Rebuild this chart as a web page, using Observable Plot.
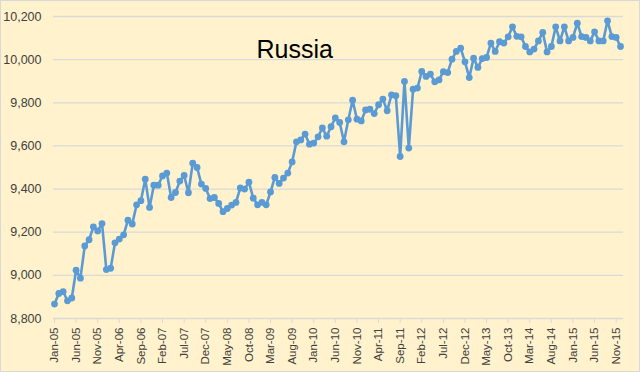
<!DOCTYPE html>
<html><head><meta charset="utf-8">
<script src="https://cdn.jsdelivr.net/npm/d3@7"></script>
<script src="https://cdn.jsdelivr.net/npm/@observablehq/plot@0.6"></script>
<style>
html,body{margin:0;padding:0;background:#fff;}
#wrap{width:640px;height:372px;}
#wrap svg{display:block;outline:1px solid #d9d9d9;outline-offset:-1px;}
</style></head><body>
<div id="wrap"></div>
<script>
const title = "Russia";
const monthNames = ["Jan","Feb","Mar","Apr","May","Jun","Jul","Aug","Sep","Oct","Nov","Dec"];
const years = ["05","06","07","08","09","10","11","12","13","14","15"];
const months = years.flatMap(y => monthNames.map(m => `${m}-${y}`));
const production = [
  8867, 8916, 8925, 8882, 8895, 9024, 8987, 9136, 9165, 9225, 9206, 9240,
  9027, 9033, 9151, 9168, 9188, 9256, 9238, 9327, 9346, 9446, 9315, 9418,
  9418, 9461, 9474, 9361, 9384, 9437, 9463, 9383, 9520, 9500, 9423, 9403,
  9356, 9361, 9333, 9295, 9310, 9326, 9338, 9405, 9400, 9432, 9358, 9327,
  9338, 9327, 9387, 9454, 9426, 9451, 9474, 9526, 9619, 9628, 9655, 9608,
  9613, 9642, 9683, 9645, 9689, 9730, 9709, 9619, 9721, 9812, 9724, 9716,
  9767, 9770, 9750, 9791, 9817, 9763, 9837, 9833, 9551, 9899, 9590, 9863,
  9868, 9945, 9922, 9933, 9897, 9906, 9944, 9940, 10002, 10038, 10053, 9990,
  9917, 10007, 9964, 10005, 10010, 10077, 10038, 10083, 10077, 10106, 10152, 10108,
  10106, 10061, 10036, 10049, 10087, 10126, 10036, 10061, 10152, 10087, 10152, 10087,
  10103, 10169, 10107, 10103, 10087, 10129, 10087, 10087, 10180, 10107, 10103, 10061
];
const yTicks = [8800, 9000, 9200, 9400, 9600, 9800, 10000, 10200];
const xTicks = months.filter((d, i) => i % 5 === 0);

const data = months.map((m, i) => ({month: m, value: production[i]}));
const blue = "#5b9bd5";

const chart = Plot.plot({
  width: 640,
  height: 372,
  marginLeft: 54,
  marginRight: 20,
  marginTop: 16,
  marginBottom: 54,
  style: {background: "#fff2cc", fontFamily: "'Liberation Sans', Arial, sans-serif", color: "#404040"},
  x: {type: "point", domain: months, padding: 0, label: null},
  y: {domain: [8800, 10200], label: null},
  marks: [
    Plot.ruleY(yTicks.slice(1), {stroke: "#d9d9d9", strokeWidth: 1.3, insetLeft: -1, insetRight: -3}),
    Plot.ruleY([8800], {stroke: "#d9d9d9", strokeWidth: 1.3, insetLeft: -1, insetRight: -3}),
    Plot.axisY({ticks: yTicks, tickSize: 0, tickPadding: 13, tickFormat: d3.format(","), fontSize: 12.5, fill: "#404040", label: null}),
    Plot.axisX({ticks: xTicks, tickSize: 5, tickPadding: 4, tickRotate: -90, fontSize: 11.5, stroke: "#d9d9d9", fill: "#404040", label: null}),
    Plot.line(data, {x: "month", y: "value", stroke: blue, strokeWidth: 2.6, strokeLinejoin: "round"}),
    Plot.dot(data, {x: "month", y: "value", r: 3.4, fill: blue, stroke: "none"}),
    Plot.text([title], {frameAnchor: "top-left", dx: 202, dy: 33, fontSize: 25, textAnchor: "start", lineAnchor: "middle", fill: "#000"})
  ]
});
document.getElementById("wrap").appendChild(chart);
</script>
</body></html>
